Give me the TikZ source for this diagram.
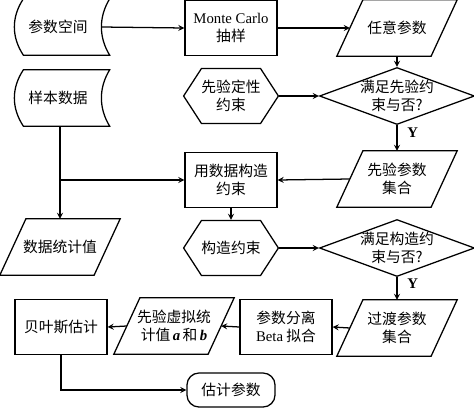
\documentclass[tikz,border=0pt]{standalone}
\usepackage{fontspec}
\setmainfont{Liberation Serif}
\newfontfamily\cjk{Noto Sans CJK SC}
\usetikzlibrary{shapes.geometric, shapes.symbols}

\tikzset{
  every node/.style={font=\cjk\fontsize{10.5}{12.8}\selectfont, align=center, inner sep=0pt},
  proc/.style={draw, minimum width=2.3cm, minimum height=1.375cm},
  datum/.style={minimum width=2.325cm, minimum height=1.375cm},
  prep/.style={draw, signal, signal to=west and east, signal pointer angle=114,
    minimum width=2.325cm, minimum height=1.375cm},
  decide/.style={draw, diamond, aspect=2.7, inner ysep=-3pt, minimum width=3.875cm, minimum height=1.425cm},
  store/.style={minimum width=2.15cm, minimum height=1.375cm},
  term/.style={draw, rounded corners=3mm, minimum width=2.2cm, minimum height=0.85cm}
}

\begin{document}
\begin{tikzpicture}[>=stealth, x=0.025cm, y=-0.025cm, line width=0.9pt]
\useasboundingbox (0,0) rectangle (474,409);

% left column
\node (space) at (58,27)[store]{参数空间};
\node (sample) at (58,98)[store]{样本数据};
\node (stat) at (60,247)[datum]{数据统计值};
\node (bayes) at (61,327)[proc]{贝叶斯估计};
\foreach \n in {space,sample}
  \draw ([xshift=2.25mm]\n.north west) .. controls +(-3mm,-4.5mm) and +(-3mm,4.5mm) .. ([xshift=2.25mm]\n.south west)
    -- ([xshift=2mm]\n.south east) .. controls +(-2.75mm,4.5mm) and +(-2.75mm,-4.5mm) .. ([xshift=2mm]\n.north east) -- cycle;

% middle column
\node (mc) at (231,28)[proc]{{\rmfamily Monte Carlo}\\抽样};
\node (hexa) at (231,96)[prep]{先验定性\\约束};
\node (cons) at (231,180)[proc]{用数据构造\\约束};
\node (hexb) at (231,248)[prep]{构造约束};
\node (virt) at (174,326)[datum]{先验虚拟统\\计值\,{\rmfamily\bfseries\itshape a}\,和\,{\rmfamily\bfseries\itshape b}};
\node (beta) at (286,327)[proc]{参数分离\\{\rmfamily Beta} 拟合};
\node (est) at (231,390)[term]{估计参数};

% right column
\node (arb) at (397,28)[datum]{任意参数};
\node (dia1) at (397,96)[decide]{满足先验约\\束与否?};
\node (prior) at (397,179)[datum]{先验参数\\集合};
\node (dia2) at (397,248)[decide]{满足构造约\\束与否?};
\node (trans) at (397,328)[datum]{过渡参数\\集合};

% slanted data boxes
\foreach \n in {arb,prior,stat,virt,trans}
  \draw ([xshift=3.25mm]\n.north west) -- ([xshift=3.25mm]\n.north east)
    -- ([xshift=-3.25mm]\n.south east) -- ([xshift=-3.25mm]\n.south west) -- cycle;

% connectors
\draw[->] (space.east) -- (mc.west);
\draw[->] (mc.east) -- (arb.west);
\draw[->] (arb.south) -- (dia1.north);
\draw[->] (hexa.east) -- (dia1.west);
\draw[->] (dia1.south) -- (prior.north) node[pos=.3, right=7pt]{\rmfamily\bfseries Y};
\draw[->] (prior.west) -- (cons.east);
\draw[->] (stat.north |- sample.south) -- (stat.north);
\draw[->] (stat.north |- cons.west) -- (cons.west);
\draw[->] (cons.south) -- (hexb.north);
\draw[->] (hexb.east) -- (dia2.west);
\draw[->] (dia2.south) -- (trans.north) node[pos=.3, right=7pt]{\rmfamily\bfseries Y};
\draw[->] (trans.west) -- (beta.east);
\draw[->] (beta.west) -- (virt.east);
\draw[->] (virt.west) -- (bayes.east);
\draw[->] (bayes.south) |- (est.west);

\end{tikzpicture}
\end{document}
